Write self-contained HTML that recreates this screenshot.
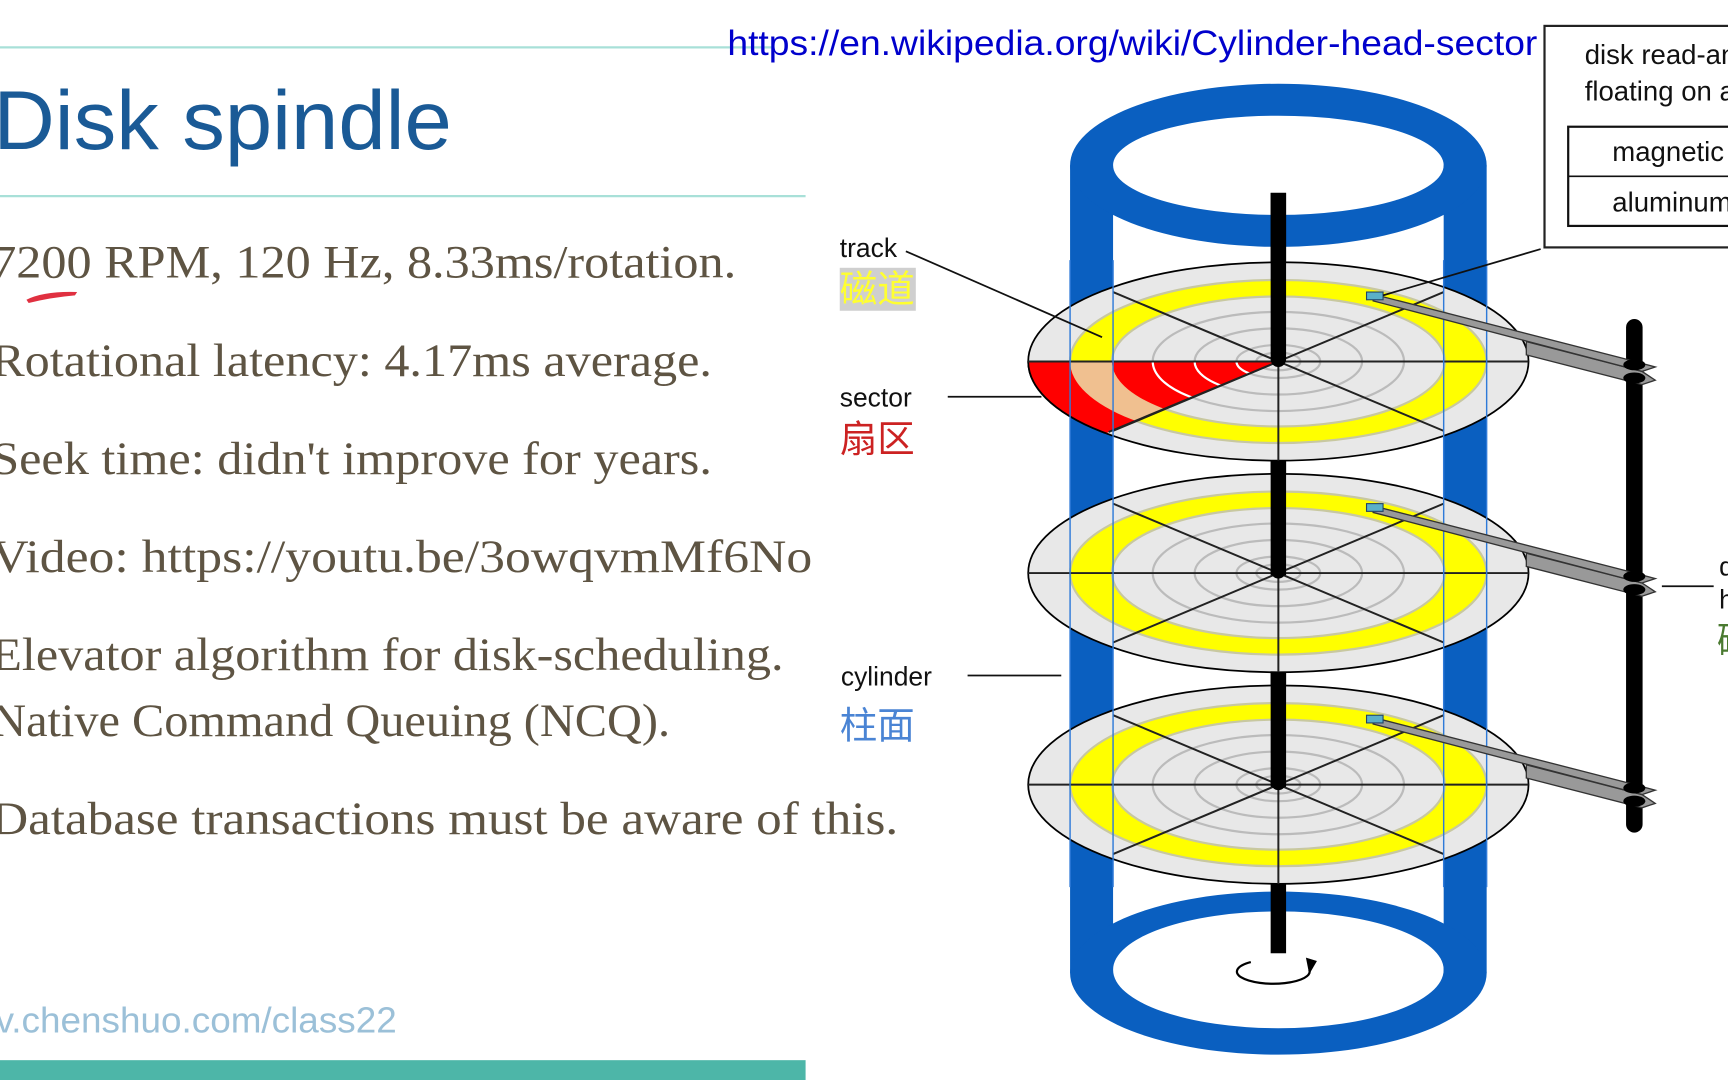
<!DOCTYPE html>
<html><head><meta charset="utf-8"><style>
html,body{margin:0;padding:0;width:1728px;height:1080px;overflow:hidden;background:#fff}
#w{position:absolute;left:0;top:0;width:1568px;height:980px;transform:scale(1.10204);transform-origin:0 0}
svg{position:absolute;left:0;top:0}
.t{font-family:"Liberation Serif",serif;fill:#5e5443;font-size:42px}
.a{font-family:"Liberation Sans","Noto Sans CJK SC",sans-serif}
</style></head><body><div id="w">
<svg width="1568" height="980" viewBox="0 0 1568 980">
<defs>
<g id="disk">
<ellipse rx="227" ry="90" fill="#e8e8e8" stroke="#000" stroke-width="1.6"/>
<ellipse rx="189" ry="74" fill="#ffff00" stroke="#c8c8a0" stroke-width="2"/>
<ellipse rx="151" ry="59" fill="#e8e8e8" stroke="#c8c8a0" stroke-width="2"/>
<g fill="none" stroke="#bbb" stroke-width="2"><ellipse rx="114" ry="45"/><ellipse rx="76" ry="30"/><ellipse rx="38" ry="15"/><ellipse rx="20" ry="8"/></g>
<g stroke="#222" stroke-width="1.8"><line x1="-227" y1="0" x2="227" y2="0"/><line x1="0" y1="0" x2="0" y2="90"/><line x1="-150" y1="-63" x2="150" y2="63"/><line x1="-150" y1="63" x2="150" y2="-63"/></g>
</g>
<g id="arms">
<polygon points="225,-18 330,9 342,17 330,21 225,-6" fill="#999" stroke="#333" stroke-width="1.2"/>
<ellipse cx="323" cy="15" rx="10" ry="5" fill="#000"/>
<polygon points="86,-61 312,-3 342,5 330,9 86,-55" fill="#999" stroke="#333" stroke-width="1.2"/>
<ellipse cx="323" cy="3" rx="10" ry="5" fill="#000"/>
<rect x="80" y="-63" width="15" height="7" fill="#5ab0c8" stroke="#246" stroke-width="1"/>
</g>
<clipPath id="wedge"><polygon points="0,0 -240,0 -240,100"/></clipPath>
</defs>
<!-- slide left -->
<line x1="0" y1="43" x2="700" y2="43" stroke="#a8e0d8" stroke-width="2"/>
<line x1="0" y1="178" x2="731" y2="178" stroke="#a8e0d8" stroke-width="2"/>
<text x="-6" y="135" class="a" font-size="76" fill="#1a5a96" textLength="416" lengthAdjust="spacingAndGlyphs">Disk spindle</text>
<g class="t">
<text x="-8" y="252" textLength="676" lengthAdjust="spacingAndGlyphs">7200 RPM, 120 Hz, 8.33ms/rotation.</text>
<text x="-8" y="341" textLength="654" lengthAdjust="spacingAndGlyphs">Rotational latency: 4.17ms average.</text>
<text x="-8" y="430" textLength="654" lengthAdjust="spacingAndGlyphs">Seek time: didn't improve for years.</text>
<text x="-8" y="519" textLength="745" lengthAdjust="spacingAndGlyphs">Video: https://youtu.be/3owqvmMf6No</text>
<text x="-8" y="608" textLength="719" lengthAdjust="spacingAndGlyphs">Elevator algorithm for disk-scheduling.</text>
<text x="-8" y="668" textLength="616" lengthAdjust="spacingAndGlyphs">Native Command Queuing (NCQ).</text>
<text x="-8" y="757" textLength="823" lengthAdjust="spacingAndGlyphs">Database transactions must be aware of this.</text>
</g>
<path d="M24 272 Q40 264 70 265 L68 268 Q45 270 26 275 Z" fill="#e03040"/>
<text x="-4" y="937" font-family="Liberation Sans,sans-serif" font-size="33" fill="#9bc0d8" textLength="364" lengthAdjust="spacingAndGlyphs">v.chenshuo.com/class22</text>
<rect x="0" y="962" width="731" height="18" fill="#4db6a8"/>
<text x="660" y="50" class="a" font-size="32" fill="#0000cc" textLength="735" lengthAdjust="spacingAndGlyphs">https://en.wikipedia.org/wiki/Cylinder-head-sector</text>
<!-- box -->
<rect x="1401.5" y="23.5" width="200" height="201" fill="#fff" stroke="#222" stroke-width="2"/>
<text x="1438" y="58" class="a" font-size="25" fill="#111">disk read-and-write head</text>
<text x="1438" y="91" class="a" font-size="25" fill="#111">floating on air</text>
<rect x="1423" y="115" width="200" height="90" fill="none" stroke="#111" stroke-width="2"/>
<line x1="1423" y1="160" x2="1568" y2="160" stroke="#111" stroke-width="1.5"/>
<text x="1463" y="146" class="a" font-size="25" fill="#111">magnetic</text>
<text x="1463" y="192" class="a" font-size="25" fill="#111">aluminum</text>
<!-- cylinder -->
<rect x="971" y="150" width="39" height="733" fill="#0a5fc0"/>
<rect x="1310" y="150" width="39" height="733" fill="#0a5fc0"/>
<path fill="#0a5fc0" fill-rule="evenodd" d="M971 150 a189 74 0 1 0 378 0 a189 74 0 1 0 -378 0 Z M1010 150 a150 45 0 1 0 300 0 a150 45 0 1 0 -300 0 Z"/>
<path fill="#0a5fc0" fill-rule="evenodd" d="M971 883 a189 74 0 1 0 378 0 a189 74 0 1 0 -378 0 Z M1010 880 a150 53 0 1 0 300 0 a150 53 0 1 0 -300 0 Z"/>
<rect x="1153" y="175" width="14" height="690" fill="#000"/>
<!-- rotation arrow -->
<path d="M1135 873 A33 11 0 1 0 1188 880" fill="none" stroke="#000" stroke-width="2"/>
<polygon points="1185,869 1195,872 1188,884" fill="#000"/>
<!-- post -->
<line x1="1483" y1="297" x2="1483" y2="748" stroke="#000" stroke-width="15" stroke-linecap="round"/>
<!-- disks -->
<use href="#disk" transform="translate(1160,328)"/>
<g transform="translate(1160,328)" clip-path="url(#wedge)">
<ellipse rx="227" ry="90" fill="#f00" stroke="#000" stroke-width="1.6"/>
<ellipse rx="189" ry="74" fill="#f0c090"/>
<ellipse rx="151" ry="59" fill="#f00"/>
<g fill="none" stroke="#fff" stroke-width="2"><ellipse rx="114" ry="45"/><ellipse rx="76" ry="30"/><ellipse rx="38" ry="15"/></g>
</g>
<line x1="1160" y1="328" x2="1006" y2="392" stroke="#222" stroke-width="1.8"/>
<line x1="933" y1="328" x2="1160" y2="328" stroke="#222" stroke-width="1.8"/>
<use href="#disk" transform="translate(1160,520)"/>
<use href="#disk" transform="translate(1160,712)"/>
<rect x="1153" y="175" width="14" height="150" fill="#000"/>
<rect x="1153" y="418" width="14" height="104" fill="#000"/>
<rect x="1153" y="610" width="14" height="104" fill="#000"/>
<circle cx="1160" cy="326" r="7"/><circle cx="1160" cy="518" r="7"/><circle cx="1160" cy="710" r="7"/>
<g stroke="#2f7ad8" stroke-width="1.3"><line x1="971" y1="236" x2="971" y2="805"/><line x1="1010" y1="236" x2="1010" y2="805"/><line x1="1310" y1="236" x2="1310" y2="805"/><line x1="1349" y1="236" x2="1349" y2="805"/></g>
<use href="#arms" transform="translate(1160,328)"/>
<use href="#arms" transform="translate(1160,520)"/>
<use href="#arms" transform="translate(1160,712)"/>
<!-- labels -->
<g stroke="#111" stroke-width="1.6">
<line x1="822" y1="228" x2="1000" y2="306"/>
<line x1="860" y1="360" x2="945" y2="360"/>
<line x1="878" y1="613" x2="963" y2="613"/>
<line x1="1508" y1="532" x2="1555" y2="532"/>
<line x1="1398" y1="226" x2="1255" y2="268"/>
</g>
<text x="762" y="233" class="a" font-size="24" fill="#111">track</text>
<rect x="762" y="243" width="69" height="39" fill="#cfcfcf"/>
<text x="762" y="274" class="a" font-size="34" fill="#ffff30">磁道</text>
<text x="762" y="369" class="a" font-size="24" fill="#111">sector</text>
<text x="762" y="410" class="a" font-size="34" fill="#cc2222">扇区</text>
<text x="763" y="622" class="a" font-size="24" fill="#111">cylinder</text>
<text x="762" y="670" class="a" font-size="34" fill="#4a84d4">柱面</text>
<text x="1560" y="522" class="a" font-size="24" fill="#111">disk</text>
<text x="1560" y="552" class="a" font-size="24" fill="#111">head</text>
<text x="1558" y="593" class="a" font-size="34" fill="#4a7a30">磁头</text>
</svg></div></body></html>
